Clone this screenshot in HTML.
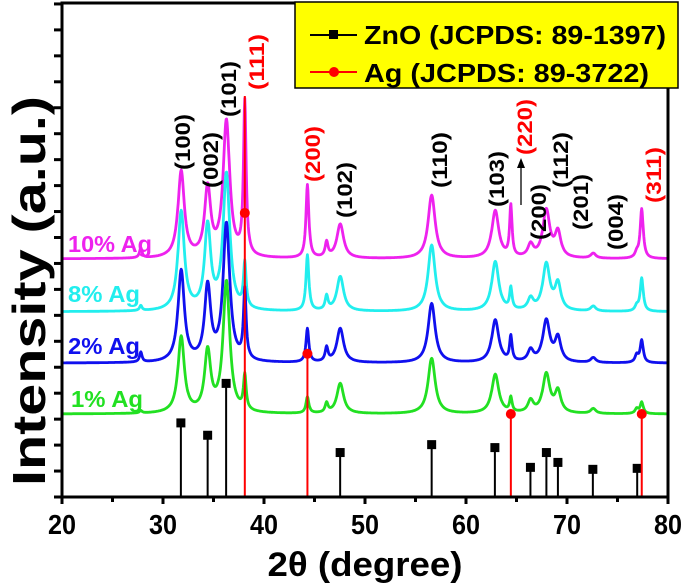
<!DOCTYPE html>
<html><head><meta charset="utf-8"><style>
html,body{margin:0;padding:0;background:#fff;}
svg{display:block;font-family:"Liberation Sans",Arial,sans-serif;font-weight:bold;}
</style></head><body>
<svg id="chart" width="685" height="585" viewBox="0 0 685 585">
<g id="series-layer"></g>
<g id="stick-layer"></g>
<g id="axis-layer"></g>
<g id="label-layer"></g>
<text x="45" y="291" font-size="46" text-anchor="middle" textLength="390" lengthAdjust="spacingAndGlyphs" transform="rotate(-90 45 291)">Intensity (a.u.)</text>
<text x="365" y="576" font-size="34" text-anchor="middle" textLength="195" lengthAdjust="spacingAndGlyphs">2θ (degree)</text>
<g>
<rect x="295" y="2" width="383" height="86" fill="#ffff00" stroke="#000" stroke-width="1.5"/>
<g>
<line x1="310" y1="35" x2="357" y2="35" stroke="#000" stroke-width="2"/>
<rect x="329" y="30" width="9" height="9" fill="#000"/>
<text x="364" y="44" font-size="26" fill="#000" textLength="302" lengthAdjust="spacingAndGlyphs">ZnO (JCPDS: 89-1397)</text>
</g>
<g>
<line x1="310" y1="72" x2="357" y2="72" stroke="#f00" stroke-width="2"/>
<circle cx="334" cy="72" r="5" fill="#f00"/>
<text x="364" y="82" font-size="26" fill="#000" textLength="285" lengthAdjust="spacingAndGlyphs">Ag (JCPDS: 89-3722)</text>
</g>
</g>
</svg>
<script>
// x-axis data
const xTicks = [20,30,40,50,60,70,80];
// ZnO reference pattern (2θ, relative height)
const znoPos = [31.77,34.42,36.25,47.54,56.6,62.86,66.38,67.96,69.1,72.56,76.95];
const znoInt = [15,12.5,23,9,10.6,10,6,9,7,5.6,5.8];
// Ag reference pattern
const agPos = [38.1,44.3,64.44,77.4];
const agInt = [57.5,29,16.8,16.8];
// peak positions shared by measured patterns
const peakPos = [27.8,31.8,34.42,36.28,38.1,44.3,46.2,47.55,56.6,62.9,64.44,66.4,67.95,69.1,72.6,76.9,77.4];
const peakWid = [0.15,0.38,0.36,0.4,0.16,0.17,0.17,0.4,0.42,0.42,0.14,0.32,0.42,0.35,0.3,0.2,0.18];
// heights (axis units) per sample
const h10 = [2,17.5,13.8,27.5,31,14.8,3,6.9,12.8,9.6,10.3,2.5,9.6,5,1,1,10];
const h8  = [1,20,16.8,27.5,9,11.3,2.8,7,13.4,10,4.3,2.3,9.4,5.3,1,1,6.7];
const h2  = [2,18.5,15,27.8,14,6.8,2.8,6.9,12,8.6,5,2.3,8.4,4.8,1,1.5,4.5];
const h1  = [0.5,15.4,12.2,26.5,7,3.3,1.9,6.1,11.2,7.9,2.9,2.4,7.9,4.3,1,1,2.3];
// baselines (axis units)
const base10 = 48.2, base8 = 37.5, base2 = 27.1, base1 = 16.8;
const sampleNames = ["10% Ag","8% Ag","2% Ag","1% Ag"];

const X0=62,X1=668,Y0=497,Y1=3;
function sx(v){return X0+(v-20)/(80-20)*(X1-X0);}
function sy(v){return Y0-(v/100)*(Y0-Y1);}
const NS="http://www.w3.org/2000/svg";
function mk(tag,attrs,parent){const e=document.createElementNS(NS,tag);for(const k in attrs)e.setAttribute(k,attrs[k]);parent.appendChild(e);return e;}

const series=[
 {h:h10,b:base10,c:"#ee22ee",name:"series-10pct-ag",lab:sampleNames[0],ly:252,lx:68},
 {h:h8,b:base8,c:"#22eeee",name:"series-8pct-ag",lab:sampleNames[1],ly:302,lx:68},
 {h:h2,b:base2,c:"#1010ee",name:"series-2pct-ag",lab:sampleNames[2],ly:354,lx:68},
 {h:h1,b:base1,c:"#22e022",name:"series-1pct-ag",lab:sampleNames[3],ly:407,lx:71}
];
const sl=document.getElementById('series-layer');
series.forEach(s=>{
  let d="";
  for(let x=20;x<=80.001;x+=0.05){
    let y=s.b;
    for(let i=0;i<peakPos.length;i++){const t=(x-peakPos[i])/peakWid[i];y+=s.h[i]/(1+t*t);}
    d+=(d?"L":"M")+sx(x).toFixed(1)+" "+sy(y).toFixed(1);
  }
  const p=mk('path',{d:d,fill:"none",stroke:s.c,"stroke-width":2.8,"stroke-linejoin":"round"},sl);
  
  
  const t=mk('text',{x:s.lx,y:s.ly,fill:s.c,"font-size":23,textLength:s.lab.length>5?84:72,lengthAdjust:"spacingAndGlyphs"},sl);
  t.textContent=s.lab;
  
  
});

const stl=document.getElementById('stick-layer');
znoPos.forEach((p,i)=>{
  const g=mk('g',{},stl);
  
  
  mk('line',{x1:sx(p),x2:sx(p),y1:Y0,y2:sy(znoInt[i]),stroke:"#000","stroke-width":2},g);
  mk('rect',{x:sx(p)-4.5,y:sy(znoInt[i])-4.5,width:9,height:9,fill:"#000"},g);
});
agPos.forEach((p,i)=>{
  const g=mk('g',{},stl);
  
  
  mk('line',{x1:sx(p),x2:sx(p),y1:Y0,y2:sy(agInt[i]),stroke:"#f00","stroke-width":2},g);
  mk('circle',{cx:sx(p),cy:sy(agInt[i]),r:5,fill:"#f00"},g);
});
mk('line',{x1:sx(38.1),x2:sx(38.1),y1:sy(agInt[0]),y2:96,stroke:"#f00","stroke-width":2},stl);

const al=document.getElementById('axis-layer');
mk('rect',{x:X0,y:Y1,width:X1-X0,height:Y0-Y1,fill:"none",stroke:"#000","stroke-width":3},al);
for(let v=20;v<=80;v+=5){
  const maj=v%10===0;
  const tk=mk('line',{x1:sx(v),x2:sx(v),y1:Y0,y2:Y0+(maj?7:5),stroke:"#000","stroke-width":3},al);
  
  
}
xTicks.forEach(v=>{
  const t=mk('text',{x:sx(v),y:534,"font-size":28,"text-anchor":"middle",textLength:28,lengthAdjust:"spacingAndGlyphs"},al);
  t.textContent=v;
  
  
});
for(let y=Y0;y>=Y1-1;y-=25.95){
  const tk=mk('line',{x1:X0,x2:X0-8,y1:y,y2:y,stroke:"#000","stroke-width":3},al);
  
  
}

// peak labels: [text, x center, bottom y, color]
const labels=[["(100)",183,170,"#000"],["(002)",211,188,"#000"],["(101)",229,117,"#000"],["(111)",257,90,"#f00"],
["(200)",313,182,"#f00"],["(102)",345,218,"#000"],["(110)",440,188,"#000"],["(103)",497,207,"#000"],["(220)",525,155,"#f00"],
["(200)",539,240,"#000"],["(112)",561,188,"#000"],["(201)",581,230,"#000"],["(004)",616,250,"#000"],["(311)",654,203,"#f00"]];
const ll=document.getElementById('label-layer');
labels.forEach(l=>{
  const t=mk('text',{x:l[1]+7,y:l[2],"font-size":21,fill:l[3],textLength:56,lengthAdjust:"spacingAndGlyphs",transform:`rotate(-90 ${l[1]+7} ${l[2]})`},ll);
  t.textContent=l[0];
  
  
});
const ar=mk('g',{},ll);


mk('line',{x1:521,x2:521,y1:205,y2:166,stroke:"#000","stroke-width":1.3},ar);
mk('path',{d:"M517 168 L521 158 L525 168 Z",fill:"#000"},ar);
</script>
</body></html>
